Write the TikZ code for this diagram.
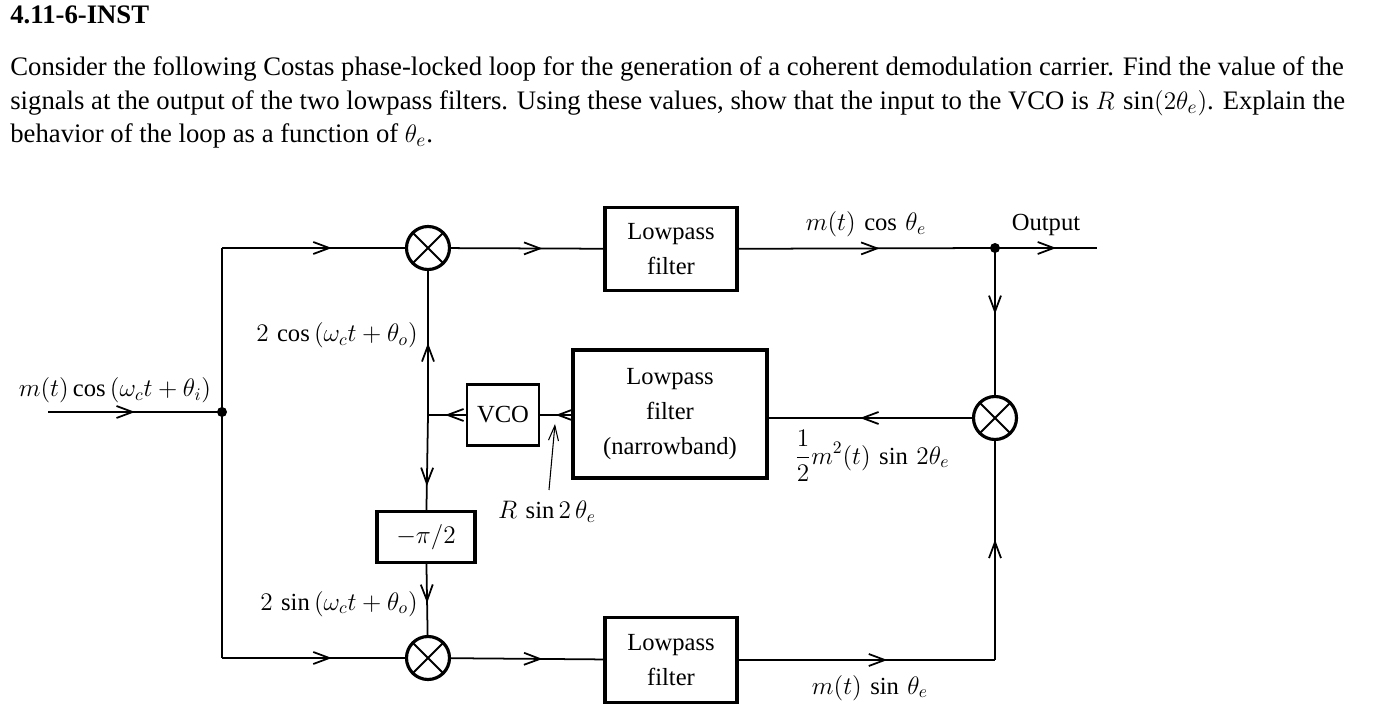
\documentclass[tikz,border=0pt]{standalone}
\usepackage{fontspec}
\setmainfont{Liberation Serif}
\usetikzlibrary{arrows.meta,decorations.markings}
\begin{document}
\begin{tikzpicture}[x=0.02cm,y=-0.02cm,
  every node/.style={inner sep=0pt},
  para/.style={anchor=base west,font=\fontsize{15.2}{18}\selectfont},
  lab/.style={font=\fontsize{14}{17}\selectfont},
  blk/.style={draw,line width=1.8pt,inner sep=0pt,align=center,font=\fontsize{14}{17}\selectfont},
  mult/.style={draw,circle,line width=1.8pt,minimum size=0.86cm,
    path picture={\draw[line width=1.2pt] ([shift={(45:0.43cm)}]path picture bounding box.center)--([shift={(225:0.43cm)}]path picture bounding box.center)
    ([shift={(135:0.43cm)}]path picture bounding box.center)--([shift={(315:0.43cm)}]path picture bounding box.center);}},
  ln/.style={line width=1pt},
  ma/.style={postaction={decorate,decoration={markings,mark=at position #1 with {\arrow{Straight Barb[length=3.2mm,width=2.4mm,line width=1pt]}}}}}
]
\useasboundingbox (0,0) rectangle (1374,716);
\node[para,font=\fontsize{15.2}{18}\selectfont\bfseries] (title) at (10,24) {4.11-6-INST};
\node[para] (p1) at (10,76) {Consider the following Costas phase-locked loop for the generation of a coherent demodulation carrier. Find the value of the};
\node[para] (p2) at (10,110) {signals at the output of the two lowpass filters. Using these values, show that the input to the VCO is $R\,\sin(2\theta_e)$. Explain the};
\node[para] (p3) at (10,143) {behavior of the loop as a function of $\theta_e$.};

% blocks
\node[mult] (m1) at (428,248) {};
\node[mult] (m2) at (428,658) {};
\node[mult] (m3) at (995,418) {};
\node[blk,minimum width=2.64cm,minimum height=1.66cm] (lp1) at (671,249) {Lowpass\\[3pt]filter};
\node[blk,minimum width=3.88cm,minimum height=2.56cm] (lp2) at (670,414) {Lowpass\\[3pt]filter\\[3pt](narrowband)};
\node[blk,minimum width=2.64cm,minimum height=1.7cm] (lp3) at (671,660) {Lowpass\\[3pt]filter};
\node[blk,line width=1.2pt,minimum width=1.44cm,minimum height=1.22cm] (vco) at (503,415) {VCO};
\node[blk,minimum width=1.96cm,minimum height=1.02cm] (ph) at (426,537) {$-\pi/2$};

\coordinate (j) at (222,412);
\coordinate (in) at (48,412);
\coordinate (tl) at (222,248);
\coordinate (bl) at (222,658);
\coordinate (jv) at (428,415);
\coordinate (jo) at (995,248);
\coordinate (out) at (1097,248);
\coordinate (br) at (995,660);
\fill (j) circle (0.1cm);
\fill (jo) circle (0.1cm);

\draw[ln,ma=0.5] (in) -- (j);
\draw[ln] (j) -- (tl);
\draw[ln,ma=0.6] (tl) -- (m1);
\draw[ln] (j) -- (bl);
\draw[ln,ma=0.6] (bl) -- (m2);
\draw[ln,ma=0.6] (m1) -- (lp1);
\draw[ln,ma=0.6] (m2) -- (lp3);
\draw[ln,ma=0.55] (lp1) -- (jo);
\draw[ln,ma=0.6] (jo) -- (out);
\draw[ln,ma=0.45] (jo) -- (m3);
\draw[ln,ma=0.55] (m3) -- (lp2.east |- m3);
\draw[ln,ma=0.58] (lp3.east |- br) -- (br);
\draw[ln,ma=0.55] (br) -- (m3);
\draw[ln,ma=0.5] (lp2.west |- vco) -- (vco);
\draw[ln,ma=0.55] (vco) -- (jv);
\draw[line width=1.6pt,ma=0.5] (jv) -- (m1);
\draw[ln,ma=0.75] (jv) -- (ph);
\draw[ln,ma=0.55] (ph) -- (m2);

\coordinate (ra) at (549,490);
\draw[line width=0.6pt,-{Straight Barb[length=3mm,width=2mm]}] (ra) -- (555,424);

% labels
\node[lab,anchor=base] (li) at (115,397) {$m(t)\cos\,(\omega_c t+\theta_i)$};
\node[lab,anchor=base east] (lc) at (418,342) {$2\,\cos\,(\omega_c t+\theta_o)$};
\node[lab,anchor=base east] (ls) at (418,610) {$2\,\sin\,(\omega_c t+\theta_o)$};
\node[lab,anchor=base] (lr) at (547,519) {$R\,\sin 2\,\theta_e$};
\node[lab,anchor=base] (lmc) at (866,231) {$m(t)\,\cos\,\theta_e$};
\node[lab,anchor=base] (lo) at (1046,231) {Output};
\node[lab,anchor=base] (lh) at (872,464) {$\displaystyle\frac{1}{2}m^2(t)\,\sin\,2\theta_e$};
\node[lab,anchor=base] (lms) at (870,694) {$m(t)\,\sin\,\theta_e$};
\end{tikzpicture}
\end{document}
